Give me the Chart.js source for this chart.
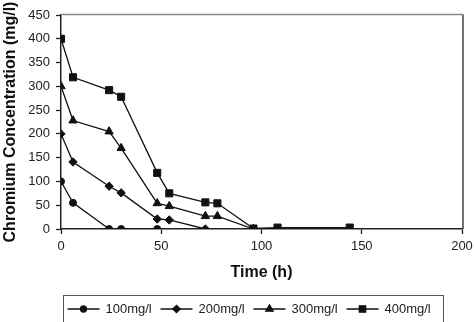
<!DOCTYPE html>
<html>
<head>
<meta charset="utf-8">
<script src="https://cdn.jsdelivr.net/npm/chart.js@4.4.0/dist/chart.umd.min.js"></script>
<style>
  html, body { margin: 0; padding: 0; background: #fff; }
  #wrap { width: 474px; height: 322px; position: relative; }
</style>
</head>
<body>
<div id="wrap"><canvas id="chromChart" width="474" height="322"></canvas></div>
<script>
// valeurs
const seriesLabels = ["100mg/l", "200mg/l", "300mg/l", "400mg/l"];
const time100 = [0, 6, 24, 30, 48];
const conc100 = [100, 55, 0, 0, 0];
const time200 = [0, 6, 24, 30, 48, 54, 72];
const conc200 = [200, 141, 90, 76, 21, 19, 0];
const time300 = [0, 6, 24, 30, 48, 54, 72, 78, 96];
const conc300 = [300, 228, 205, 170, 54, 48, 27, 27, 0];
const time400 = [0, 6, 24, 30, 48, 54, 72, 78, 96, 108, 144];
const conc400 = [400, 319, 292, 278, 118, 75, 56, 54, 1, 3, 3];
const xTicks = [0, 50, 100, 150, 200];
const yTicks = [0, 50, 100, 150, 200, 250, 300, 350, 400, 450];

const pointStyles = ["circle", "rectRot", "triangle", "rect"];
const pointSizes = [3.5, 4.2, 4.8, 5];

function toPoints(xs, ys) {
  return xs.map((x, i) => ({ x: x, y: ys[i] }));
}

const allSeries = [
  toPoints(time100, conc100),
  toPoints(time200, conc200),
  toPoints(time300, conc300),
  toPoints(time400, conc400)
];

const datasets = allSeries.map((pts, i) => ({
  label: seriesLabels[i],
  data: pts,
  borderColor: "#111",
  backgroundColor: "#111",
  borderWidth: 1.3,
  pointStyle: pointStyles[i],
  pointRadius: pointSizes[i],
  pointBorderWidth: 1,
  pointBackgroundColor: "#111",
  pointBorderColor: "#111",
  tension: 0,
  fill: false
}));

// cadre haut/droite + légende en bas
const framePlugin = {
  id: "frameAndLegend",
  afterDraw(chart) {
    const ctx = chart.ctx;
    const a = chart.chartArea;
    ctx.save();
    ctx.lineWidth = 1.5;
    ctx.strokeStyle = "#888";
    ctx.beginPath();
    ctx.moveTo(a.left, a.top - 0.5);
    ctx.lineTo(a.right + 1, a.top - 0.5);
    ctx.stroke();
    ctx.strokeStyle = "#444";
    ctx.beginPath();
    ctx.moveTo(a.right + 1, a.top - 0.5);
    ctx.lineTo(a.right + 1, a.bottom);
    ctx.stroke();

    // légende
    const boxL = 63.5, boxR = 443.5, boxT = 295.5;
    ctx.lineWidth = 1;
    ctx.strokeStyle = "#555";
    ctx.strokeRect(boxL, boxT, boxR - boxL, 40);
    const itemW = (boxR - boxL - 8) / seriesLabels.length;
    const yMid = 309;
    ctx.font = "13px 'Liberation Sans', Arial, sans-serif";
    ctx.fillStyle = "#222";
    ctx.textBaseline = "middle";
    seriesLabels.forEach((lab, i) => {
      const x0 = boxL + 4 + i * itemW;
      ctx.strokeStyle = "#111";
      ctx.lineWidth = 1.3;
      ctx.beginPath();
      ctx.moveTo(x0, yMid);
      ctx.lineTo(x0 + 32, yMid);
      ctx.stroke();
      ctx.fillStyle = "#111";
      Chart.helpers.drawPoint(ctx, {
        pointStyle: pointStyles[i],
        radius: pointSizes[i] - 0.5,
        rotation: 0,
        borderWidth: 1
      }, x0 + 16, yMid);
      ctx.fillStyle = "#222";
      ctx.fillText(lab, x0 + 38, yMid + 0.5);
    });
    ctx.restore();
  }
};

const ctx = document.getElementById("chromChart").getContext("2d");
new Chart(ctx, {
  type: "line",
  data: { datasets: datasets },
  plugins: [framePlugin],
  options: {
    responsive: false,
    animation: false,
    events: [],
    layout: { padding: { left: 0, top: 15, right: 12, bottom: 0 } },
    plugins: {
      legend: { display: false },
      tooltip: { enabled: false }
    },
    scales: {
      x: {
        type: "linear",
        min: 0,
        max: 200,
        afterFit: s => { s.height = 93; s.paddingLeft = 0; s.paddingRight = 0; },
        afterBuildTicks: s => { s.ticks = xTicks.map(v => ({ value: v })); },
        grid: { drawOnChartArea: false, tickLength: 5, color: "#222", tickWidth: 1.3 },
        border: { color: "#222", width: 1.5 },
        ticks: {
          padding: 5,
          color: "#222",
          font: { family: "'Liberation Sans', Arial, sans-serif", size: 13 },
          maxRotation: 0,
          autoSkip: false
        },
        title: {
          display: true,
          text: "Time (h)",
          color: "#111",
          font: { family: "'Liberation Sans', Arial, sans-serif", size: 16, weight: "bold" },
          padding: { top: 0, bottom: 40 }
        }
      },
      y: {
        type: "linear",
        min: 0,
        max: 450,
        afterFit: s => { s.width = 61; s.paddingTop = 0; s.paddingBottom = 0; },
        afterBuildTicks: s => { s.ticks = yTicks.map(v => ({ value: v })); },
        grid: { drawOnChartArea: false, tickLength: 5, color: "#222", tickWidth: 1.3 },
        border: { color: "#222", width: 1.5 },
        ticks: {
          padding: 6,
          color: "#222",
          font: { family: "'Liberation Sans', Arial, sans-serif", size: 13 },
          autoSkip: false
        },
        title: {
          display: true,
          text: "Chromium Concentration (mg/l)",
          color: "#111",
          font: { family: "'Liberation Sans', Arial, sans-serif", size: 16, weight: "bold" },
          padding: { top: 1, bottom: 0 }
        }
      }
    }
  }
});
</script>
</body>
</html>
